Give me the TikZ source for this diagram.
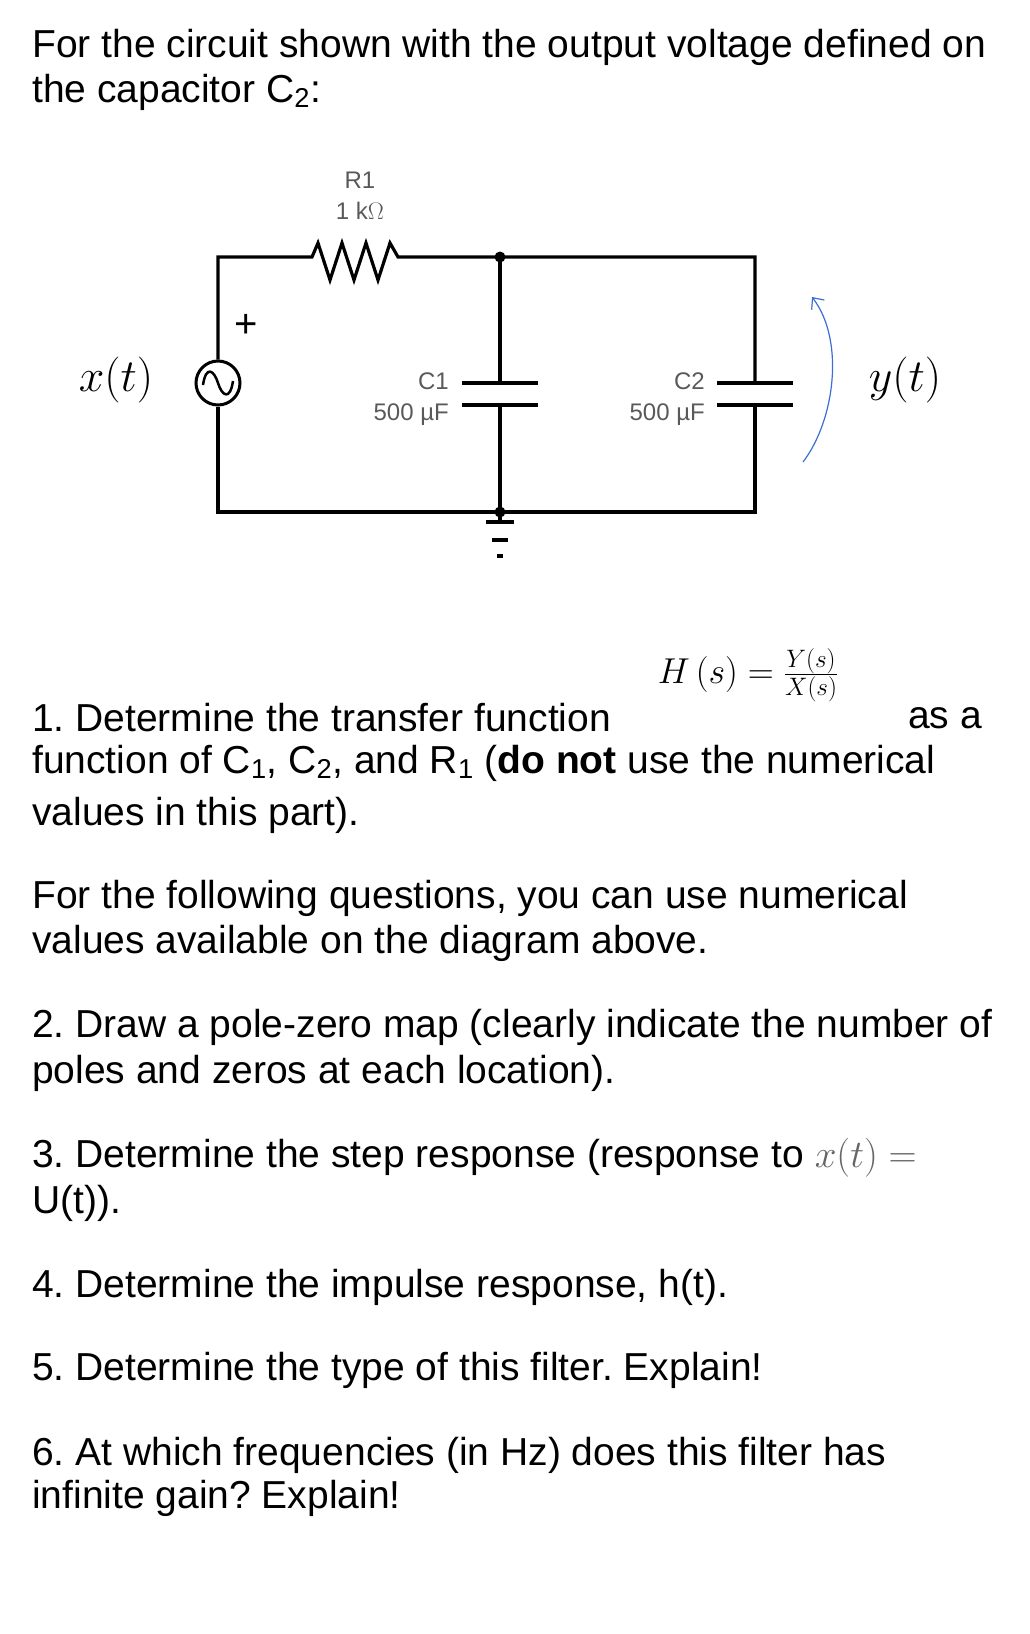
\documentclass[tikz,border=0pt]{standalone}
\usepackage{fix-cm}
\usepackage{fontspec}
\setmainfont{Liberation Sans}
\usetikzlibrary{arrows.meta}
\begin{document}
\frenchspacing
\begin{tikzpicture}[x=1pt,y=-1pt,
  txt/.style={anchor=west,inner sep=0pt,font=\fontsize{39}{46}\selectfont},
  wire/.style={line width=3.2pt},
  lbl/.style={text=black!65,inner sep=0pt,font=\fontsize{24}{28}\selectfont},
  dot/.style={circle,fill=black,inner sep=0pt,minimum size=11pt}]
\useasboundingbox (0,0) rectangle (1030,1634);
\node[txt] (l1) at (32,47) {For the circuit shown with the output voltage defined on};
\node[txt] (l2) at (32,92) {the capacitor C\textsubscript{2}:};
% circuit
\coordinate (tl) at (218,257); \coordinate (bl) at (218,512);
\coordinate (tm) at (500,257); \coordinate (bm) at (500,512);
\coordinate (tr) at (755,257); \coordinate (br) at (755,512);
\node[circle,draw,line width=3pt,minimum size=44pt,inner sep=0pt] (src) at (218,383) {};
\draw[line width=2.5pt] (203,385) .. controls (206,365) and (214,370) .. (218,383) .. controls (222,396) and (230,401) .. (233,381);
\draw[wire] (src.north) -- (tl) -- (312,257) -- (318,243) -- (330,280) -- (342,243) -- (354,280) -- (366,243) -- (378,280) -- (390,243) -- (398,257) -- (tm) -- (tr) -- (755,383);
\draw[wire] (src.south) -- (bl) -- (bm) -- (br) -- (755,405);
\draw[wire] (tm) -- (500,383); \draw[wire] (bm) -- (500,405);
\draw[wire] (500,512) -- (500,522);
\draw[line width=4pt] (462,383) -- (538,383) (462,405) -- (538,405);
\draw[line width=4pt] (717,383) -- (793,383) (717,405) -- (793,405);
\node[dot] (j1) at (tm) {}; \node[dot] (j2) at (bm) {};
\draw[line width=4pt] (486,522) -- (514,522) (492,540) -- (508,540) (497,556) -- (503,556);
\node[font=\fontsize{40}{40}\selectfont,inner sep=0pt] (plus) at (246,326) {+};
\node[lbl] (r1) at (360,180) {R1};
\node[lbl] (r1v) at (360,211) {1 k\(\Omega\)};
\node[lbl,anchor=east] (c1) at (449,381) {C1};
\node[lbl,anchor=east] (c1v) at (449,415) {500 µF};
\node[lbl,anchor=east] (c2) at (705,381) {C2};
\node[lbl,anchor=east] (c2v) at (705,415) {500 µF};
\node[inner sep=0pt,font=\fontsize{46}{46}\selectfont] (xt) at (116,380) {\(x(t)\)};
\node[inner sep=0pt,font=\fontsize{46}{46}\selectfont] (yt) at (905,380) {\(y(t)\)};
\coordinate (ya) at (803,462); \coordinate (yb) at (812,297);
\draw[color={rgb,255:red,60;green,110;blue,210},line width=1.2pt,-{Straight Barb[length=9pt,width=16pt]}] (ya) .. controls (835,420) and (845,340) .. (yb);
% formula
\node[inner sep=0pt,font=\fontsize{36}{36}\selectfont] (hs) at (748,675) {\(H\left(s\right)=\frac{Y(s)}{X(s)}\)};
\node[txt] (l3) at (32,718) {1. Determine the transfer function};
\node[txt] (l3b) at (908,718) {as a};
\node[txt] (l4) at (32,763) {function of C\textsubscript{1}, C\textsubscript{2}, and R\textsubscript{1} (\textbf{do not} use the numerical};
\node[txt] (l5) at (32,815) {values in this part).};
\node[txt] (l6) at (32,898) {For the following questions, you can use numerical};
\node[txt] (l7) at (32,943) {values available on the diagram above.};
\node[txt] (l8) at (32,1027) {2. Draw a pole-zero map (clearly indicate the number of};
\node[txt] (l9) at (32,1073) {poles and zeros at each location).};
\node[txt] (l10) at (32,1158) {3. Determine the step response (response to \textcolor{black!60}{\(x(t)=\)}};
\node[txt] (l11) at (32,1203) {U(t)).};
\node[txt] (l12) at (32,1287) {4. Determine the impulse response, h(t).};
\node[txt] (l13) at (32,1370) {5. Determine the type of this filter. Explain!};
\node[txt] (l14) at (32,1455) {6. At which frequencies (in Hz) does this filter has};
\node[txt] (l15) at (32,1498) {infinite gain? Explain!};
\end{tikzpicture}
\end{document}
